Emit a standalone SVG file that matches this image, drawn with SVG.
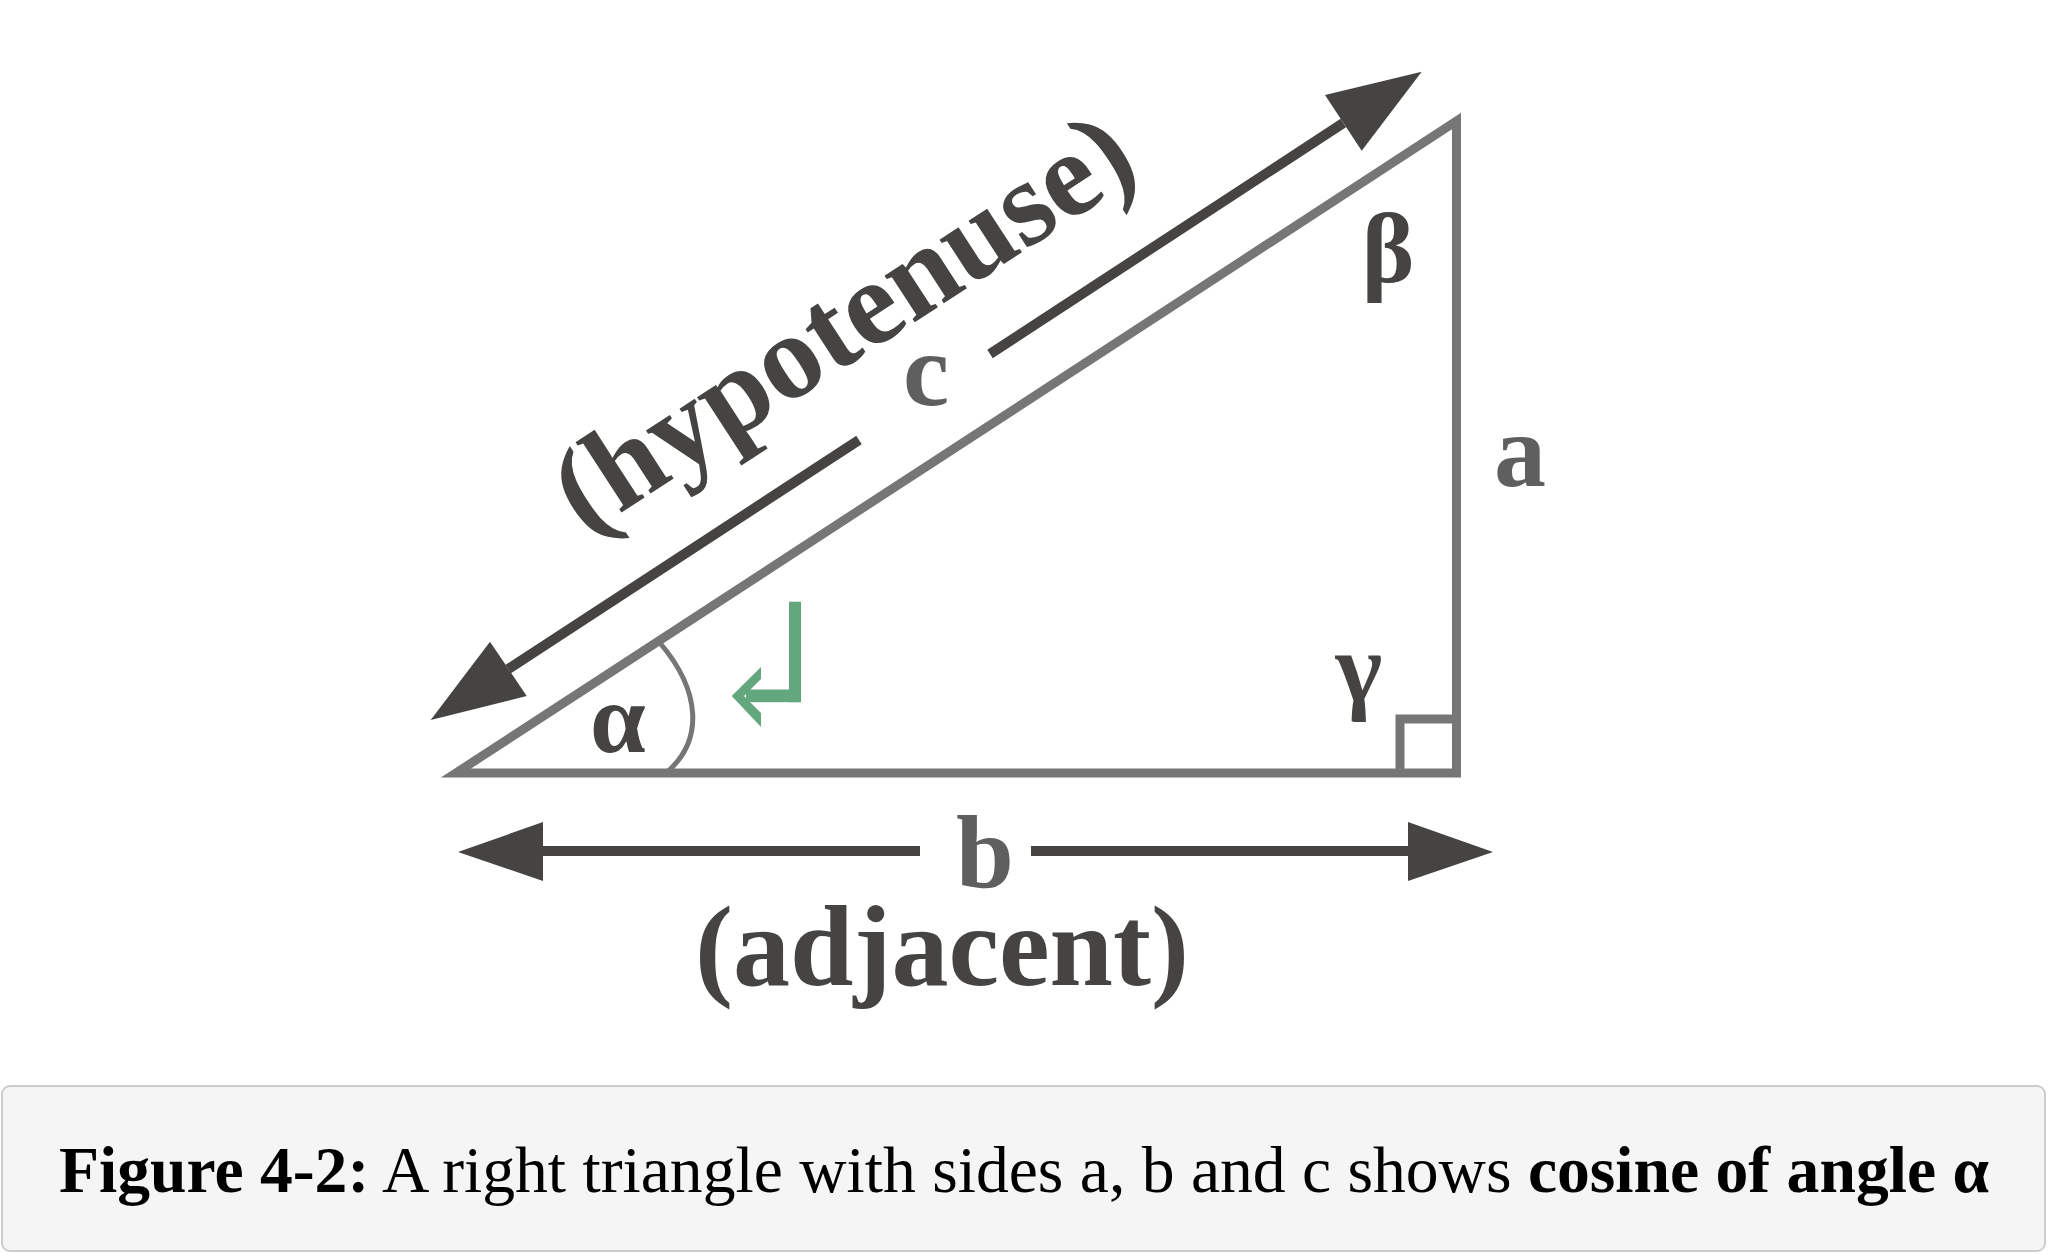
<svg xmlns="http://www.w3.org/2000/svg" width="2048" height="1254" viewBox="0 0 2048 1254">
  <style>
    .edge { fill: none; stroke: #767676; stroke-width: 9; stroke-linejoin: miter; }
    .arc { fill: none; stroke: #767676; stroke-width: 5; }
    .shaft { fill: none; stroke: #454443; stroke-width: 10; stroke-linecap: butt; }
    .head { fill: #454443; stroke: none; }
    .green { fill: #62a77e; stroke: none; }
    .greek { font-family: "Liberation Serif", "Times New Roman", serif; font-weight: bold; font-size: 100px; fill: #454443; text-anchor: middle; }
    .side { font-family: "Liberation Serif", "Times New Roman", serif; font-weight: bold; font-size: 104px; fill: #5f5f5f; text-anchor: middle; }
    .name { font-family: "Liberation Serif", "Times New Roman", serif; font-weight: bold; fill: #454443; text-anchor: middle; }
    .cap { font-family: "Liberation Serif", "Times New Roman", serif; font-size: 65.6px; fill: #000000; text-anchor: middle; }
    .b { font-weight: bold; }
  </style>
  <rect x="0" y="0" width="2048" height="1254" fill="#ffffff"/>

  <g id="triangle">
    <path class="edge" d="M456 773 L1456.5 773 L1456.5 121 Z"/>
    <path class="edge" d="M1400 773 V719 H1456.5"/>
    <path class="arc" d="M660 643 C700 690 705 740 666 773"/>
  </g>

  <g id="connectors">
    <g id="hypotenuse-arrow">
      <line class="shaft" x1="508.3" y1="669" x2="859" y2="440"/>
      <line class="shaft" x1="990" y1="354" x2="1343.3" y2="123"/>
      <polygon class="head" points="430.7,720 490,641.7 526.7,696"/>
      <polygon class="head" points="1421.7,71.7 1325,95 1361.7,150.7"/>
    </g>
    <g id="adjacent-arrow">
      <line class="shaft" x1="540" y1="851" x2="920" y2="851"/>
      <line class="shaft" x1="1031" y1="851" x2="1411" y2="851"/>
      <polygon class="head" points="458,852 543,822 543,881"/>
      <polygon class="head" points="1493,852 1408,822 1408,881"/>
    </g>
  </g>

  <g id="return-arrow">
    <rect class="green" x="789" y="601.7" width="12" height="100.5"/>
    <rect class="green" x="746" y="689.5" width="55" height="12.7"/>
    <polygon class="green" points="731.7,696 761,667 761,679 744,696 761,713 761,727"/>
  </g>

  <g id="label-alpha"><text class="greek" x="618" y="752">α</text></g>
  <g id="label-beta"><text class="greek" x="1388" y="282">β</text></g>
  <g id="label-gamma"><text class="greek" x="1359" y="701">γ</text></g>
  <g id="label-a"><text class="side" x="1520" y="486">a</text></g>
  <g id="label-b"><text class="side" x="985" y="887">b</text></g>
  <g id="label-c"><text class="side" x="926" y="405">c</text></g>
  <g id="label-hypotenuse"><text class="name" font-size="121" x="864" y="355" transform="rotate(-33 864 355)">(hypotenuse)</text></g>
  <g id="label-adjacent"><text class="name" font-size="114" x="942" y="985">(adjacent)</text></g>

  <g id="caption">
    <rect x="2" y="1086" width="2043" height="165" rx="8" ry="8" fill="#f5f5f5" stroke="#cccccc" stroke-width="2"/>
    <text class="cap" x="1024" y="1192"><tspan class="b">Figure 4-2:</tspan> A right triangle with sides a, b and c shows <tspan class="b">cosine of angle α</tspan></text>
  </g>
</svg>
